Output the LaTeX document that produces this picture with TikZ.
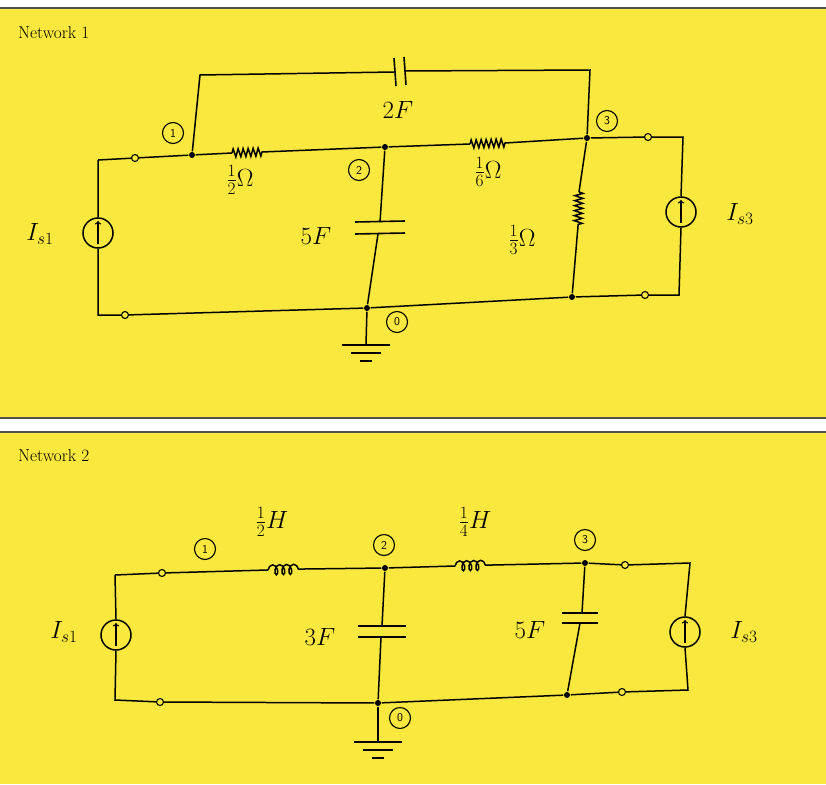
\documentclass[tikz,border=0pt]{standalone}
\usetikzlibrary{decorations.pathmorphing}
\begin{document}
\begin{tikzpicture}[x=1pt,y=-1pt,line width=1.5pt,
  term/.style={circle,draw,fill=bg,inner sep=0pt,minimum size=7pt,line width=1.1pt},
  dotn/.style={circle,fill=black,inner sep=0pt,minimum size=6pt},
  src/.style={circle,draw,minimum size=30pt,inner sep=0pt,line width=1.5pt},
  cnum/.style={circle,draw,inner sep=1pt,minimum size=21pt,font=\large\sffamily,line width=1.1pt},
  lab/.style={font=\fontsize{25}{28}\selectfont},
  res/.style={decorate,decoration={zigzag,amplitude=4pt,segment length=5pt}},
  ind/.style={decorate,decoration={coil,amplitude=5pt,segment length=7pt,aspect=0.6}},
  plate/.style={line width=1.6pt}]
\definecolor{bg}{RGB}{250,232,62}
\definecolor{fr}{RGB}{80,80,80}
\useasboundingbox (0,0) rectangle (826,784);
\fill[white] (0,0) rectangle (826,784);
\fill[bg] (0,8) rectangle (826,418);
\fill[bg] (0,432) rectangle (826,784);
\draw[fr,line width=1.5pt] (0,8) -- (826,8) (0,418) -- (826,418) (0,432) -- (826,432);
\node[anchor=west,font=\LARGE] (t1) at (14,33) {Network 1};
\node[anchor=west,font=\LARGE] (t2) at (14,456) {Network 2};
% ---------- Network 1
\coordinate (a1) at (98,160);
\coordinate (a2) at (98,315);
\node[src] (s1) at (98,233) {};
\draw[->,line width=1.3pt] (98,244) -- (98,221);
\node[term] (tl1) at (135,158) {};
\node[term] (bl1) at (125,315) {};
\node[dotn] (n1) at (192,155) {};
\node[dotn] (n2) at (385,147) {};
\node[dotn] (n3) at (587,138) {};
\node[dotn] (g1) at (367,308) {};
\node[dotn] (b3) at (572,297) {};
\node[term] (tr1) at (648,137) {};
\node[term] (br1) at (645,295) {};
\coordinate (c1) at (683,137);
\coordinate (c2) at (679,295);
\node[src] (s3) at (681,212) {};
\draw[->,line width=1.3pt] (681,223) -- (681,200);
\draw (a1) -- (s1.north) (s1.south) -- (a2) -- (bl1) -- (g1) -- (b3) -- (br1) -- (c2) -- (s3.south) (s3.north) -- (c1) -- (tr1) -- (n3);
\draw (a1) -- (tl1) -- (n1);
\draw (n1) -- (232,153);
\draw[res] (232,153) -- (262,152);
\draw (262,152) -- (n2);
\draw (n2) -- (470,144);
\draw[res] (470,144) -- (505,143);
\draw (505,143) -- (n3);
\draw (n3) -- (579,192);
\draw[res] (579,192) -- (578,226);
\draw (578,226) -- (b3);
\draw (n1) -- (200,75) -- (394,72);
\draw[plate] (394,58) -- (396,86) (404,57) -- (406,85);
\draw (405,71) -- (590,70) -- (n3);
\draw (n2) -- (380,222);
\draw[plate] (355,222) -- (405,221) (355,234) -- (405,233);
\draw (378,234) -- (g1);
\draw (g1) -- (366,345);
\draw (342,345) -- (390,345) (351,353) -- (381,353) (360,361) -- (372,361);
\node[cnum] (l0) at (397,322) {0};
\node[cnum] (l1) at (173,133) {1};
\node[cnum] (l2) at (359,170) {2};
\node[cnum] (l3) at (607,121) {3};
\node[lab] (v2f) at (398,110) {$2F$};
\node[lab] (vr1) at (240,180) {$\frac{1}{2}\Omega$};
\node[lab] (vr6) at (488,172) {$\frac{1}{6}\Omega$};
\node[lab] (vr3) at (522,240) {$\frac{1}{3}\Omega$};
\node[lab] (v5f) at (316,236) {$5F$};
\node[lab] (vis1) at (40,234) {$I_{s1}$};
\node[lab] (vis3) at (740,214) {$I_{s3}$};
% ---------- Network 2
\coordinate (d1) at (115,575);
\coordinate (d2) at (115,700);
\node[src] (s21) at (116,635) {};
\draw[->,line width=1.3pt] (116,646) -- (116,623);
\node[term] (tl2) at (162,573) {};
\node[term] (bl2) at (160,702) {};
\node[dotn] (m2) at (385,568) {};
\node[dotn] (m3) at (585,563) {};
\node[dotn] (g2) at (378,703) {};
\node[dotn] (e3) at (567,695) {};
\node[term] (tr2) at (625,565) {};
\node[term] (br2) at (622,692) {};
\coordinate (f1) at (690,563);
\coordinate (f2) at (688,690);
\node[src] (s23) at (685,632) {};
\draw[->,line width=1.3pt] (685,643) -- (685,620);
\draw (d1) -- (s21.north) (s21.south) -- (d2) -- (bl2) -- (g2) -- (e3) -- (br2) -- (f2) -- (s23.south) (s23.north) -- (f1) -- (tr2) -- (m3);
\draw (d1) -- (tl2) -- (268,570);
\draw[ind] (268,570) -- (304,569);
\draw (304,569) -- (m2) -- (455,566);
\draw[ind] (455,566) -- (492,565);
\draw (492,565) -- (m3);
\draw (m2) -- (382,626);
\draw[plate] (358,626) -- (406,626) (358,637) -- (406,637);
\draw (381,637) -- (g2);
\draw (m3) -- (582,613);
\draw[plate] (562,613) -- (598,613) (562,623) -- (598,623);
\draw (580,623) -- (e3);
\draw (g2) -- (378,742);
\draw (354,742) -- (402,742) (363,750) -- (393,750) (372,758) -- (384,758);
\node[cnum] (k0) at (400,718) {0};
\node[cnum] (k1) at (205,549) {1};
\node[cnum] (k2) at (384,545) {2};
\node[cnum] (k3) at (585,540) {3};
\node[lab] (h1) at (272,522) {$\frac{1}{2}H$};
\node[lab] (h4) at (475,522) {$\frac{1}{4}H$};
\node[lab] (c3f) at (320,637) {$3F$};
\node[lab] (c5f) at (530,630) {$5F$};
\node[lab] (w1) at (64,632) {$I_{s1}$};
\node[lab] (w3) at (744,632) {$I_{s3}$};
\end{tikzpicture}
\end{document}
